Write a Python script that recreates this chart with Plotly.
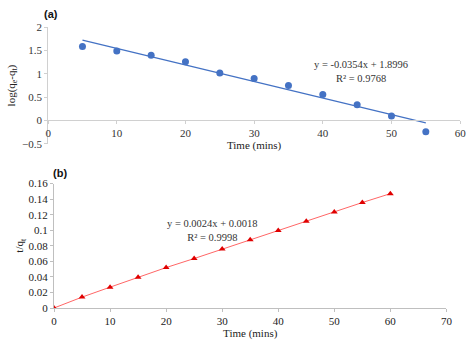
import plotly.graph_objects as go

# Panel (a): pseudo-first-order
time_a = [5, 10, 15, 20, 25, 30, 35, 40, 45, 50, 55]
log_qe_qt = [1.59, 1.49, 1.40, 1.26, 1.02, 0.90, 0.75, 0.56, 0.34, 0.10, -0.24]
slope_a, icpt_a = -0.0354, 1.8996
fit_x_a = [5, 55]

# Panel (b): pseudo-second-order
time_b = [0, 5, 10, 15, 20, 25, 30, 35, 40, 45, 50, 55, 60]
t_over_qt = [0.0, 0.014, 0.0268, 0.0397, 0.052, 0.0636, 0.0757, 0.0876, 0.0996, 0.1116, 0.1235, 0.1356, 0.147]

W, H = 474, 342
def py(p):
    return 1 - p / H
def px(p):
    return p / W

font_family = "Liberation Serif"
axcol = "#d0d0d0"

fig = go.Figure()
fig.add_trace(go.Scatter(x=fit_x_a, y=[slope_a * v + icpt_a for v in fit_x_a], mode="lines",
                         line=dict(color="#4472c4", width=1.2), xaxis="x", yaxis="y", showlegend=False))
fig.add_trace(go.Scatter(x=time_a, y=log_qe_qt, mode="markers",
                         marker=dict(color="#4472c4", size=7), xaxis="x", yaxis="y", showlegend=False))
fig.add_trace(go.Scatter(x=time_b, y=t_over_qt, mode="lines+markers",
                         line=dict(color="#ff6666", width=1),
                         marker=dict(color="#e00000", size=6, symbol="triangle-up"),
                         xaxis="x2", yaxis="y2", showlegend=False))

tick_font = dict(family=font_family, size=11, color="#333")
title_font = dict(family=font_family, size=11, color="#222")

fig.update_layout(
    width=W, height=H, margin=dict(l=0, r=0, t=0, b=0),
    plot_bgcolor="white", paper_bgcolor="white",
    font=dict(family=font_family, color="#222"),
    xaxis=dict(domain=[px(46), px(466)], range=[0, 60], dtick=10, anchor="free",
               position=py(118), showline=True, linecolor=axcol, ticks="outside",
               ticklen=3, tickcolor=axcol, showgrid=False, zeroline=False,
               tickfont=tick_font,
               title=dict(text="Time (mins)", font=title_font, standoff=1)),
    yaxis=dict(domain=[py(143), py(22)], range=[-0.5, 2], dtick=0.5, anchor="x",
               showline=True, linecolor=axcol, ticks="outside", ticklen=3, tickcolor=axcol,
               showgrid=False, zeroline=False, tickfont=tick_font,
               title=dict(text="log(q<sub>e</sub>-q<sub>t</sub>)", font=title_font, standoff=4)),
    xaxis2=dict(domain=[px(52), px(452)], range=[0, 70], dtick=10, anchor="y2",
                showline=True, linecolor="#bfbfbf", ticks="outside", ticklen=3, tickcolor="#bfbfbf",
                showgrid=False, zeroline=False,
                tickfont=dict(family=font_family, size=11, color="#222"),
                title=dict(text="Time (mins)", font=title_font, standoff=0)),
    yaxis2=dict(domain=[py(313), py(184)], range=[0, 0.16], dtick=0.02, anchor="x2",
                showline=True, linecolor="#bfbfbf", ticks="outside", ticklen=3, tickcolor="#bfbfbf",
                showgrid=False, zeroline=False, tickformat="~g",
                tickfont=dict(family=font_family, size=11, color="#222"),
                title=dict(text="t/q<sub>t</sub>", font=title_font, standoff=2)),
    annotations=[
        dict(text="<b>(a)</b>", x=px(40), y=py(8), xref="paper", yref="paper", showarrow=False,
             xanchor="left", yanchor="middle", font=dict(family="Liberation Sans", size=11, color="#111")),
        dict(text="<b>(b)</b>", x=px(49), y=py(173), xref="paper", yref="paper", showarrow=False,
             xanchor="left", yanchor="middle", font=dict(family="Liberation Sans", size=11, color="#111")),
        dict(text="y = -0.0354x + 1.8996<br>R² = 0.9768", x=45.5, y=1.06, xref="x", yref="y",
             showarrow=False, align="center", font=dict(family=font_family, size=10.5, color="#333")),
        dict(text="y = 0.0024x + 0.0018<br>R² = 0.9998", x=28.2, y=0.1, xref="x2", yref="y2",
             showarrow=False, align="center", font=dict(family=font_family, size=10.5, color="#333")),
    ],
)

fig.write_html("out.html")
